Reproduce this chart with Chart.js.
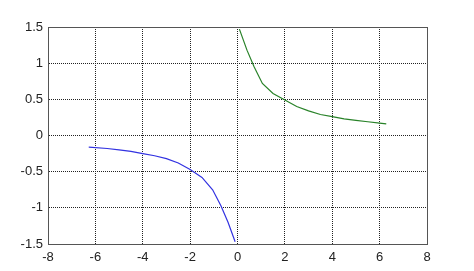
<!DOCTYPE html>
<html>
<head>
<meta charset="utf-8">
<script src="https://cdn.jsdelivr.net/npm/chart.js@4"></script>
<style>
  html, body { margin: 0; padding: 0; background: #fff; }
  canvas { display: block; }
</style>
</head>
<body>
<canvas id="myChart" width="474" height="271"></canvas>
<script>
const blueX = [-6.28, -5.5, -5, -4.5, -4, -3.5, -3, -2.5, -2, -1.5, -1.05, -0.7, -0.4, -0.1];
const blueY = [-0.16, -0.18, -0.2, -0.22, -0.25, -0.28, -0.32, -0.38, -0.47, -0.58, -0.75, -0.97, -1.2, -1.47];
const greenX = [0.08, 0.4, 0.7, 1.05, 1.5, 2, 2.5, 3, 3.5, 4, 4.5, 5, 5.5, 6, 6.28];
const greenY = [1.47, 1.18, 0.95, 0.72, 0.58, 0.49, 0.4, 0.34, 0.29, 0.26, 0.23, 0.21, 0.19, 0.17, 0.16];
const xTicks = [-8, -6, -4, -2, 0, 2, 4, 6, 8];
const yTicks = [-1.5, -1, -0.5, 0, 0.5, 1, 1.5];

const toPoints = (xs, ys) => xs.map((x, i) => ({ x: x, y: ys[i] }));

// box round the plot area
const frame = {
  id: "frame",
  afterDraw(chart) {
    const { ctx, chartArea } = chart;
    ctx.save();
    ctx.strokeStyle = "#555";
    ctx.lineWidth = 1;
    ctx.strokeRect(
      Math.round(chartArea.left) + 0.5,
      Math.round(chartArea.top) + 0.5,
      Math.round(chartArea.right - chartArea.left),
      Math.round(chartArea.bottom - chartArea.top)
    );
    ctx.restore();
  },
};

const gridStyle = {
  color: "#222",
  lineWidth: 1,
  drawTicks: false,
};

const tickFont = { family: "Liberation Sans", size: 13 };

new Chart(document.getElementById("myChart").getContext("2d"), {
  type: "scatter",
  data: {
    datasets: [
      {
        data: toPoints(blueX, blueY),
        showLine: true,
        borderColor: "rgb(50, 50, 225)",
        borderWidth: 1.2,
        pointRadius: 0,
        tension: 0,
      },
      {
        data: toPoints(greenX, greenY),
        showLine: true,
        borderColor: "rgb(40, 130, 40)",
        borderWidth: 1.2,
        pointRadius: 0,
        tension: 0,
      },
    ],
  },
  options: {
    responsive: false,
    animation: false,
    layout: { padding: { left: 0, top: 27, right: 47, bottom: 0 } },
    plugins: {
      legend: { display: false },
      tooltip: { enabled: false },
    },
    scales: {
      x: {
        type: "linear",
        min: -8,
        max: 8,
        afterBuildTicks: (scale) => {
          scale.ticks = xTicks.map((v) => ({ value: v }));
        },
        afterFit: (scale) => {
          scale.height = 27;
        },
        grid: gridStyle,
        border: { display: true, color: "#555", dash: [1, 1] },
        ticks: {
          padding: 6,
          color: "#222",
          font: tickFont,
          callback: (v) => String(v),
        },
      },
      y: {
        type: "linear",
        min: -1.5,
        max: 1.5,
        afterBuildTicks: (scale) => {
          scale.ticks = yTicks.map((v) => ({ value: v }));
        },
        afterFit: (scale) => {
          scale.width = 48;
        },
        grid: gridStyle,
        border: { display: true, color: "#555", dash: [1, 1] },
        ticks: {
          padding: 5,
          color: "#222",
          font: tickFont,
          callback: (v) => String(v),
        },
      },
    },
  },
  plugins: [frame],
});
</script>
</body>
</html>
